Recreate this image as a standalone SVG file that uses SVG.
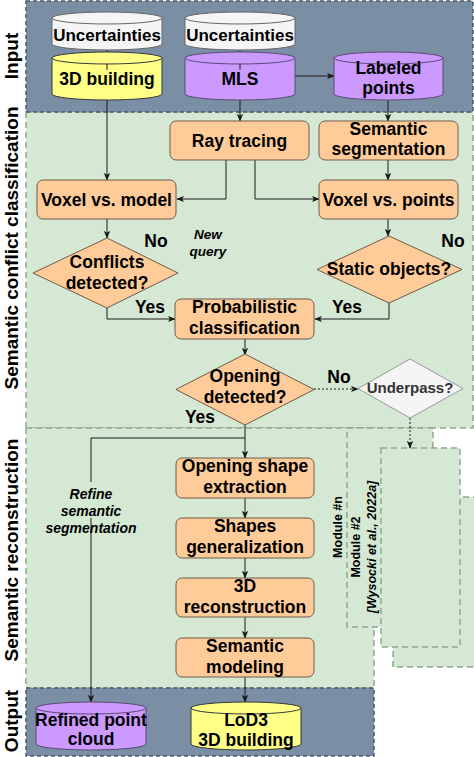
<svg xmlns="http://www.w3.org/2000/svg" width="474" height="757" viewBox="0 0 474 757">
<defs>
<style>
text{font-family:"Liberation Sans",Arial,sans-serif;font-weight:bold;fill:#000;text-anchor:middle}
.t17{font-size:17.5px}
.t16{font-size:17px}
.lbl{font-size:19px}
.it{font-style:italic;font-size:13.5px}
.mod{font-size:12.5px}
.band-dark{fill:#7b8fa4;stroke:#4a5a6c;stroke-width:1.5;stroke-dasharray:4 3}
.band-green{fill:#d5e8d4;stroke:#8fa888;stroke-width:1.5;stroke-dasharray:6 4}
.box{fill:#ffcc99;stroke:#6e5a48;stroke-width:1}
.dia{fill:#ffcc99;stroke:#6e5a48;stroke-width:1}
.cyl-w{fill:#f5f5f5;stroke:#666;stroke-width:1}
.cyl-y{fill:#ffff88;stroke:#36393d;stroke-width:1}
.cyl-p{fill:#cc99ff;stroke:#5c4a75;stroke-width:1}
.edge{fill:none;stroke:#1a1a1a;stroke-width:1}
.dot{fill:none;stroke:#1a1a1a;stroke-width:1;stroke-dasharray:2 2}
</style>
<marker id="arr" viewBox="0 0 10 10" refX="9" refY="5" markerWidth="8" markerHeight="8" orient="auto" markerUnits="userSpaceOnUse">
<path d="M0,1 L10,5 L0,9 L2.5,5 Z" fill="#1a1a1a"/>
</marker>
</defs>

<g id="bands">
<rect class="band-green" x="26" y="112" width="447" height="316"/>
<rect class="band-green" x="26" y="428" width="348" height="260"/>
<rect class="band-dark" x="26" y="1" width="447" height="111"/>
<rect class="band-dark" x="26" y="688" width="348" height="68"/>
<rect class="band-green" x="393" y="497" width="100" height="170"/>
<rect class="band-green" x="347" y="428" width="86" height="199"/>
<rect class="band-green" x="381" y="448" width="79" height="199"/>
</g>

<g id="band-labels">
<text class="lbl" transform="translate(18,56) rotate(-90)">Input</text>
<text class="lbl" transform="translate(18,248) rotate(-90)">Semantic conflict classification</text>
<text class="lbl" transform="translate(18,550) rotate(-90)">Semantic reconstruction</text>
<text class="lbl" transform="translate(18,721) rotate(-90)">Output</text>
</g>

<g id="module-labels">
<text class="mod" transform="translate(342,527) rotate(-90)">Module #n</text>
<text class="mod" transform="translate(360,547) rotate(-90)">Module #2</text>
<text class="mod" style="font-style:italic" transform="translate(376,547) rotate(-90)">[Wysocki et al., 2022a]</text>
</g>

<g id="connectors">
<line class="edge" x1="107" y1="50" x2="107" y2="70"/>
<line class="edge" x1="240" y1="50" x2="240" y2="70"/>
<line class="edge" x1="295" y1="76" x2="334" y2="76" marker-end="url(#arr)"/>
<line class="edge" x1="107" y1="100" x2="107" y2="180" marker-end="url(#arr)"/>
<line class="edge" x1="240" y1="100" x2="240" y2="121" marker-end="url(#arr)"/>
<line class="edge" x1="388" y1="100" x2="388" y2="121" marker-end="url(#arr)"/>
<polyline class="edge" points="226,160 226,199 177,199" marker-end="url(#arr)"/>
<polyline class="edge" points="255,160 255,199 319,199" marker-end="url(#arr)"/>
<line class="edge" x1="388" y1="160" x2="388" y2="180" marker-end="url(#arr)"/>
<line class="edge" x1="107" y1="219" x2="107" y2="238" marker-end="url(#arr)"/>
<line class="edge" x1="388" y1="219" x2="388" y2="236" marker-end="url(#arr)"/>
<polyline class="edge" points="107,308 107,319 175,319" marker-end="url(#arr)"/>
<polyline class="edge" points="389,303 389,319 315,319" marker-end="url(#arr)"/>
<line class="edge" x1="245" y1="339" x2="245" y2="355" marker-end="url(#arr)"/>
<line class="dot" x1="314" y1="389" x2="358" y2="389" marker-end="url(#arr)"/>
<line class="dot" x1="410" y1="418" x2="410" y2="448" marker-end="url(#arr)"/>
<line class="edge" x1="245" y1="425" x2="245" y2="458" marker-end="url(#arr)"/>
<polyline class="edge" points="245,438 91,438 91,702" marker-end="url(#arr)"/>
<line class="edge" x1="245" y1="498" x2="245" y2="518" marker-end="url(#arr)"/>
<line class="edge" x1="245" y1="558" x2="245" y2="578" marker-end="url(#arr)"/>
<line class="edge" x1="245" y1="617" x2="245" y2="638" marker-end="url(#arr)"/>
<line class="edge" x1="245" y1="677" x2="245" y2="702" marker-end="url(#arr)"/>
</g>

<g id="edge-labels">
<text class="t17" x="156" y="247">No</text>
<text class="t17" x="453" y="247">No</text>
<text class="it" x="208" y="239">New</text>
<text class="it" x="208" y="256">query</text>
<text class="t17" x="150" y="313">Yes</text>
<text class="t17" x="347" y="313">Yes</text>
<text class="t17" x="339" y="383">No</text>
<text class="t17" x="200" y="423">Yes</text>
<rect x="66" y="482" width="50" height="36" fill="#d5e8d4"/>
<text class="it" style="font-size:14px" x="91" y="499">Refine</text>
<text class="it" style="font-size:14px" x="91" y="516">semantic</text>
<text class="it" style="font-size:14px" x="91" y="533">segmentation</text>
</g>

<g id="uncertainties-1">
<path class="cyl-w" d="M52,18 A55,6 0 0 1 162,18 L162,44 A55,6 0 0 1 52,44 Z"/>
<path class="cyl-w" d="M52,18 A55,6 0 0 0 162,18"/>
<text class="t16" x="107" y="41">Uncertainties</text>
</g>
<g id="building-3d">
<path class="cyl-y" d="M52,58 A55,6 0 0 1 162,58 L162,94 A55,6 0 0 1 52,94 Z"/>
<path class="cyl-y" d="M52,58 A55,6 0 0 0 162,58"/>
<line class="edge" x1="107" y1="64" x2="107" y2="70"/>
<text class="t17" x="107" y="85">3D building</text>
</g>
<g id="uncertainties-2">
<path class="cyl-w" d="M185,18 A55,6 0 0 1 295,18 L295,44 A55,6 0 0 1 185,44 Z"/>
<path class="cyl-w" d="M185,18 A55,6 0 0 0 295,18"/>
<text class="t16" x="240" y="41">Uncertainties</text>
</g>
<g id="mls">
<path class="cyl-p" d="M185,58 A55,6 0 0 1 295,58 L295,94 A55,6 0 0 1 185,94 Z"/>
<path class="cyl-p" d="M185,58 A55,6 0 0 0 295,58"/>
<line class="edge" x1="240" y1="64" x2="240" y2="70"/>
<text class="t17" x="240" y="85">MLS</text>
</g>
<g id="labeled-points">
<path class="cyl-p" d="M334,58 A54.5,6 0 0 1 443,58 L443,94 A54.5,6 0 0 1 334,94 Z"/>
<path class="cyl-p" d="M334,58 A54.5,6 0 0 0 443,58"/>
<text class="t17" x="388.5" y="74">Labeled</text>
<text class="t17" x="388.5" y="94">points</text>
</g>

<g id="ray-tracing">
<rect class="box" x="170" y="121" width="139" height="39" rx="6"/>
<text class="t17" x="239.5" y="146.5">Ray tracing</text>
</g>
<g id="semantic-segmentation">
<rect class="box" x="319" y="121" width="139" height="39" rx="6"/>
<text class="t17" x="388.5" y="135">Semantic</text>
<text class="t17" x="388.5" y="155">segmentation</text>
</g>
<g id="voxel-model">
<rect class="box" x="37" y="180" width="139" height="39" rx="6"/>
<text class="t17" x="106.5" y="205.5">Voxel vs. model</text>
</g>
<g id="voxel-points">
<rect class="box" x="319" y="180" width="139" height="39" rx="6"/>
<text class="t17" x="388.5" y="205.5">Voxel vs. points</text>
</g>
<g id="conflicts">
<polygon class="dia" points="107,238 178,273 107,308 33,273"/>
<text class="t17" x="107" y="268">Conflicts</text>
<text class="t17" x="107" y="289">detected?</text>
</g>
<g id="static-objects">
<polygon class="dia" points="389,236 462,269.5 389,303 317,269.5"/>
<text class="t17" x="389" y="275">Static objects?</text>
</g>
<g id="probabilistic">
<rect class="box" x="175" y="299" width="139" height="40" rx="6"/>
<text class="t17" x="244.5" y="313">Probabilistic</text>
<text class="t17" x="244.5" y="334">classification</text>
</g>
<g id="opening-detected">
<polygon class="dia" points="245,354 314,389.5 245,425 176,389.5"/>
<text class="t17" x="245" y="382">Opening</text>
<text class="t17" x="245" y="403">detected?</text>
</g>
<g id="underpass">
<polygon points="410,359 463,388.5 410,418 358,388.5" fill="#f5f5f5" stroke="#999" stroke-width="1"/>
<text x="410" y="393" style="font-size:15px;fill:#333">Underpass?</text>
</g>
<g id="opening-shape">
<rect class="box" x="176" y="458" width="138" height="40" rx="6"/>
<text class="t17" x="245" y="472">Opening shape</text>
<text class="t17" x="245" y="493">extraction</text>
</g>
<g id="shapes-generalization">
<rect class="box" x="176" y="518" width="138" height="40" rx="6"/>
<text class="t17" x="245" y="532">Shapes</text>
<text class="t17" x="245" y="553">generalization</text>
</g>
<g id="reconstruction-3d">
<rect class="box" x="176" y="578" width="138" height="39" rx="6"/>
<text class="t17" x="245" y="592">3D</text>
<text class="t17" x="245" y="613">reconstruction</text>
</g>
<g id="semantic-modeling">
<rect class="box" x="176" y="638" width="138" height="39" rx="6"/>
<text class="t17" x="245" y="652">Semantic</text>
<text class="t17" x="245" y="673">modeling</text>
</g>

<g id="refined-point-cloud">
<path class="cyl-p" d="M36,708 A55,6 0 0 1 146,708 L146,744 A55,6 0 0 1 36,744 Z"/>
<path class="cyl-p" d="M36,708 A55,6 0 0 0 146,708"/>
<text class="t17" x="91" y="726">Refined point</text>
<text class="t17" x="91" y="745">cloud</text>
</g>
<g id="lod3-building">
<path class="cyl-y" d="M191,708 A55,6 0 0 1 301,708 L301,744 A55,6 0 0 1 191,744 Z"/>
<path class="cyl-y" d="M191,708 A55,6 0 0 0 301,708"/>
<text class="t17" x="246" y="726">LoD3</text>
<text class="t17" x="246" y="746">3D building</text>
</g>
</svg>
